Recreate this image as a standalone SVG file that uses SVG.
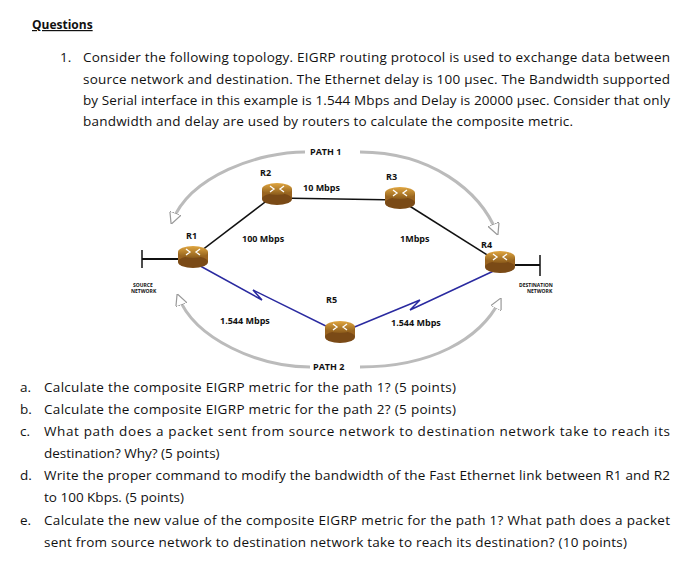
<svg xmlns="http://www.w3.org/2000/svg" width="700" height="561" viewBox="0 0 700 561">
<defs>
<linearGradient id="rg" x1="0" y1="0" x2="0" y2="1"><stop offset="0" stop-color="#e0a640"/><stop offset="1" stop-color="#8a5a1a"/></linearGradient>
<marker id="ah" viewBox="0 0 10 10" refX="8" refY="5" markerWidth="4" markerHeight="4" orient="auto-start-reverse"><path d="M0,0 L10,5 L0,10 Z" fill="#fff" stroke="#999" stroke-width="1"/></marker>
<g id="router"><rect x="-15" y="-6" width="30" height="10" fill="#9a6420"/><ellipse cx="0" cy="4" rx="15" ry="6" fill="#7a4a16"/><ellipse cx="0" cy="-6" rx="15" ry="6" fill="url(#rg)"/><path d="M-7,-9 l4,3 l-4,3 M7,-9 l-4,3 l4,3" stroke="#fff" stroke-width="1.3" fill="none"/></g>
</defs>
<style>
text{font-family:"Open Sans","Liberation Sans",sans-serif;fill:#111}
.q{font-size:13.5px}
.l{font-size:9px;font-weight:bold}
.s{font-size:5px;font-weight:bold}
.arc{fill:none;stroke:#bbb;stroke-width:3}
.e{marker-end:url(#ah)}
.st{marker-start:url(#ah)}
</style>
<rect width="700" height="561" fill="#fff"/>
<text x="32" y="29" style="font-size:12px;font-weight:bold;text-decoration:underline">Questions</text>
<text x="60" y="62" class="q">1.</text>
<text x="83" y="62" class="q" textLength="587">Consider the following topology. EIGRP routing protocol is used to exchange data between</text>
<text x="83" y="84" class="q" textLength="587">source network and destination. The Ethernet delay is 100 µsec. The Bandwidth supported</text>
<text x="83" y="105" class="q" textLength="587">by Serial interface in this example is 1.544 Mbps and Delay is 20000 µsec. Consider that only</text>
<text x="83" y="126" class="q" textLength="490">bandwidth and delay are used by routers to calculate the composite metric.</text>
<g id="connectors">
<path class="arc st" d="M172,222 C190,175 260,152 305,152"/>
<path class="arc e" d="M360,152 C430,152 480,190 497,233"/>
<path class="arc st" d="M178,296 C195,340 260,367 310,367"/>
<path class="arc e" d="M360,367 C430,367 480,340 500,300"/>
<line x1="142" y1="259" x2="193" y2="259" stroke="#111" stroke-width="2"/>
<line x1="142" y1="250" x2="142" y2="268" stroke="#111" stroke-width="1.5"/>
<line x1="500" y1="265" x2="540" y2="265" stroke="#111" stroke-width="2"/>
<line x1="540" y1="255" x2="540" y2="276" stroke="#111" stroke-width="1.5"/>
<line x1="193" y1="257" x2="277" y2="193" stroke="#111" stroke-width="1.5"/>
<line x1="277" y1="198" x2="400" y2="200" stroke="#111" stroke-width="1.5"/>
<line x1="400" y1="200" x2="500" y2="263" stroke="#111" stroke-width="1.5"/>
<polyline points="193,262 262,300 253,290 340,333" fill="none" stroke="#2a2aa0" stroke-width="1.5"/>
<polyline points="340,333 420,300 410,310 500,268" fill="none" stroke="#2a2aa0" stroke-width="1.5"/>
</g>
<text x="310" y="155" class="l">PATH 1</text>
<text x="313" y="370" class="l">PATH 2</text>
<g id="R1"><use href="#router" x="193" y="258"/><text x="186" y="239" class="l">R1</text></g>
<g id="R2"><use href="#router" x="277" y="195"/><text x="260" y="176" class="l">R2</text></g>
<g id="R3"><use href="#router" x="400" y="199"/><text x="386" y="180" class="l">R3</text></g>
<g id="R4"><use href="#router" x="500" y="263"/><text x="481" y="248" class="l">R4</text></g>
<g id="R5"><use href="#router" x="340" y="333"/><text x="326" y="303" class="l">R5</text></g>
<text x="303" y="191" class="l">10 Mbps</text>
<text x="242" y="242" class="l">100 Mbps</text>
<text x="400" y="242" class="l">1Mbps</text>
<text x="220" y="324" class="l">1.544 Mbps</text>
<text x="391" y="326" class="l">1.544 Mbps</text>
<text x="133" y="287" class="s">SOURCE</text><text x="131" y="293" class="s">NETWORK</text>
<text x="519" y="287" class="s">DESTINATION</text><text x="527" y="293" class="s">NETWORK</text>
<text x="20" y="392" class="q">a.</text><text x="44" y="392" class="q" textLength="412">Calculate the composite EIGRP metric for the path 1? (5 points)</text>
<text x="20" y="414" class="q">b.</text><text x="44" y="414" class="q" textLength="412">Calculate the composite EIGRP metric for the path 2? (5 points)</text>
<text x="20" y="436" class="q">c.</text><text x="44" y="436" class="q" textLength="626">What path does a packet sent from source network to destination network take to reach its</text>
<text x="44" y="458" class="q">destination? Why? (5 points)</text>
<text x="20" y="480" class="q">d.</text><text x="44" y="480" class="q" textLength="626">Write the proper command to modify the bandwidth of the Fast Ethernet link between R1 and R2</text>
<text x="44" y="502" class="q">to 100 Kbps. (5 points)</text>
<text x="20" y="525" class="q">e.</text><text x="44" y="525" class="q" textLength="626">Calculate the new value of the composite EIGRP metric for the path 1? What path does a packet</text>
<text x="44" y="547" class="q" textLength="583">sent from source network to destination network take to reach its destination? (10 points)</text>
</svg>
